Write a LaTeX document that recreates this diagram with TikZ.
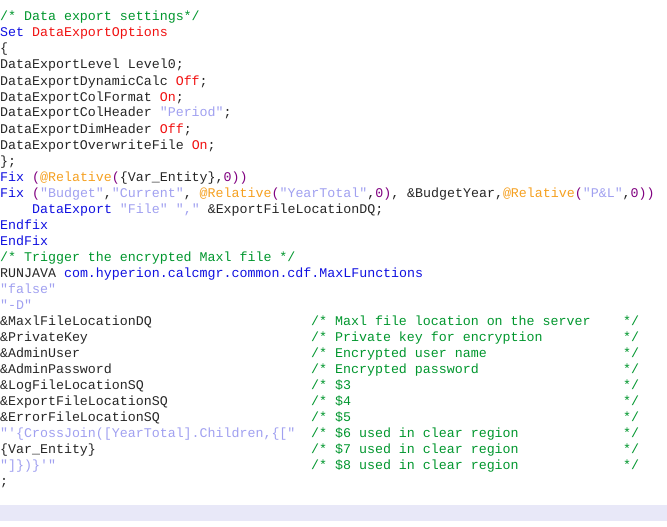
\documentclass[tikz,border=0pt]{standalone}
\usepackage{fontspec}
\setmonofont{Liberation Mono}
\usepackage{xcolor}
\usetikzlibrary{positioning}
\definecolor{cmt}{HTML}{00962D}
\definecolor{kw}{HTML}{1010E0}
\definecolor{rd}{HTML}{F01010}
\definecolor{str}{HTML}{A0A0F0}
\definecolor{fn}{HTML}{F5A020}
\definecolor{nm}{HTML}{800080}
\definecolor{band}{HTML}{E8E8F8}
\newcommand{\kw}[1]{\textcolor{kw}{#1}}
\newcommand{\rd}[1]{\textcolor{rd}{#1}}
\newcommand{\st}[1]{\textcolor{str}{#1}}
\newcommand{\fn}[1]{\textcolor{fn}{#1}}
\newcommand{\nm}[1]{\textcolor{nm}{#1}}
\tikzset{codeline/.style={anchor=base west, inner sep=0pt, font=\fontsize{13.3}{16}\ttfamily, text=black!85},
  cmtline/.style={codeline, text=cmt}}
\begin{document}
\begin{tikzpicture}[x=1pt, y=-1pt]
        \useasboundingbox (0,0) rectangle (667,527);
        \fill[band] (0,505) rectangle (667,521);
        \node[cmtline] (l1) at (0,21) {/* Data export settings*/};
        \node[codeline] (l2) at (0,37) {\kw{Set} \rd{DataExportOptions}};
        \node[codeline] (l3) at (0,53) {\{};
        \node[codeline] (l4) at (0,69) {DataExportLevel Level0;};
        \node[codeline] (l5) at (0,85) {DataExportDynamicCalc \rd{Off};};
        \node[codeline] (l6) at (0,101) {DataExportColFormat \rd{On};};
        \node[codeline] (l7) at (0,117) {DataExportColHeader \st{"Period"};};
        \node[codeline] (l8) at (0,133) {DataExportDimHeader \rd{Off};};
        \node[codeline] (l9) at (0,149) {DataExportOverwriteFile \rd{On};};
        \node[codeline] (l10) at (0,165) {\};};
        \node[codeline] (l11) at (0,181) {\kw{Fix} \nm{(}\fn{@Relative}\nm{(}\{Var\_Entity\},\nm{0))}};
        \node[codeline] (l12) at (0,197) {\kw{Fix} \nm{(}\st{"Budget"},\st{"Current"}, \fn{@Relative}\nm{(}\st{"YearTotal"},\nm{0)}, \&BudgetYear,\fn{@Relative}\nm{(}\st{"P\&L"},\nm{0))}};
        \node[codeline] (l13) at (32,213) {\kw{DataExport} \st{"File" ","} \&ExportFileLocationDQ;};
        \node[codeline] (l14) at (0,229) {\kw{Endfix}};
        \node[codeline] (l15) at (0,245) {\kw{EndFix}};
        \node[cmtline] (l16) at (0,261) {/* Trigger the encrypted Maxl file */};
        \node[codeline] (l17) at (0,277) {RUNJAVA \kw{com.hyperion.calcmgr.common.cdf.MaxLFunctions}};
        \node[codeline] (l18) at (0,293) {\st{"false"}};
        \node[codeline] (l19) at (0,309) {\st{"-D"}};
        \node[codeline] (l20) at (0,325) {\&MaxlFileLocationDQ};
        \node[codeline] (l21) at (0,341) {\&PrivateKey};
        \node[codeline] (l22) at (0,357) {\&AdminUser};
        \node[codeline] (l23) at (0,373) {\&AdminPassword};
        \node[codeline] (l24) at (0,389) {\&LogFileLocationSQ};
        \node[codeline] (l25) at (0,405) {\&ExportFileLocationSQ};
        \node[codeline] (l26) at (0,421) {\&ErrorFileLocationSQ};
        \node[codeline] (l27) at (0,437) {\st{"'\{CrossJoin([YearTotal].Children,\{["}};
        \node[codeline] (l28) at (0,453) {\{Var\_Entity\}};
        \node[codeline] (l29) at (0,469) {\st{"]\})\}'"}};
        \node[codeline] (l30) at (0,485) {;};
        % comment column
        \node[cmtline] (c20) at (311,325) {/* Maxl file location on the server};
        \node[cmtline] (c21) at (311,341) {/* Private key for encryption};
        \node[cmtline] (c22) at (311,357) {/* Encrypted user name};
        \node[cmtline] (c23) at (311,373) {/* Encrypted password};
        \node[cmtline] (c24) at (311,389) {/* \$3};
        \node[cmtline] (c25) at (311,405) {/* \$4};
        \node[cmtline] (c26) at (311,421) {/* \$5};
        \node[cmtline] (c27) at (311,437) {/* \$6 used in clear region};
        \node[cmtline] (c28) at (311,453) {/* \$7 used in clear region};
        \node[cmtline] (c29) at (311,469) {/* \$8 used in clear region};
        \foreach \n in {20,...,29}
            \node[cmtline] (e\n) at (623,16*\n+5) {*/};
    \end{tikzpicture}
\end{document}
